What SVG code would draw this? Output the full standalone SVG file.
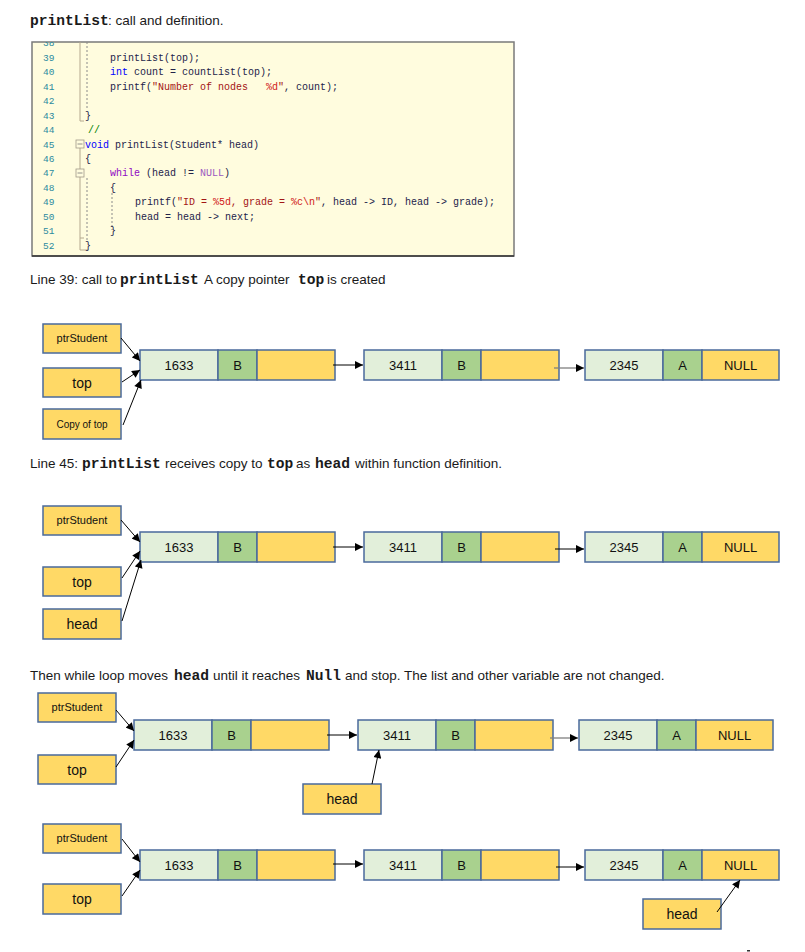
<svg xmlns="http://www.w3.org/2000/svg" width="805" height="952" viewBox="0 0 805 952">
<style>
.body{font-family:"Liberation Sans",Arial,sans-serif;font-size:13.5px;fill:#1a1a1a}
.mono{font-family:"Liberation Mono","Courier New",monospace;font-weight:bold;font-size:14.6px;fill:#1a1a1a}
.code{font-family:"Liberation Mono","DejaVu Sans Mono",monospace;font-size:10px;fill:#23234a;white-space:pre}
.ln{font-family:"Liberation Mono","DejaVu Sans Mono",monospace;font-size:9.5px;fill:#2b8a9f}
.kw{fill:#0000ff}.str{fill:#a31515}.fmt{fill:#d01818}.cm{fill:#008000}.wh{fill:#8f08c4}.nl{fill:#9b59c0}
.outl{stroke:#b4a88e;stroke-width:1;fill:none}
.dash{stroke:#8a8a8a;stroke-width:1;stroke-dasharray:2,2;fill:none}
.cd{fill:#E2EFDA;stroke:#4A6A9C;stroke-width:1.5}
.cg{fill:#A9D18E;stroke:#4A6A9C;stroke-width:1.5}
.cp{fill:#FFD966;stroke:#4A6A9C;stroke-width:1.5}
.nt{font-family:"Liberation Sans",Arial,sans-serif;font-size:13px;fill:#111;text-anchor:middle}
.pt{font-family:"Liberation Sans",Arial,sans-serif;font-size:11px;fill:#111;text-anchor:middle}
.pt2{font-family:"Liberation Sans",Arial,sans-serif;font-size:14px;fill:#111;text-anchor:middle}
.pt3{font-family:"Liberation Sans",Arial,sans-serif;font-size:10px;fill:#111;text-anchor:middle}
.conn{stroke:#000;stroke-width:1;fill:none;marker-end:url(#ah)}
.connG{stroke:#7f7f7f;stroke-width:1.3;fill:none;marker-end:url(#ah)}
</style>
<defs>
<marker id="ah" viewBox="0 0 10 10" refX="10" refY="5" markerWidth="9" markerHeight="8" markerUnits="userSpaceOnUse" orient="auto"><path d="M0,0 L10,5 L0,10 z" fill="#000"/></marker>
<clipPath id="codeclip"><rect x="32" y="42" width="482" height="214"/></clipPath>
</defs>
<rect width="805" height="952" fill="#fff"/>

<!-- Title -->
<text x="30" y="25"><tspan class="mono">printList</tspan><tspan class="body" x="108">: call and definition.</tspan></text>

<!-- Code box -->
<g id="code">
<rect x="32" y="42" width="482" height="214" fill="#FFFCDE" stroke="#7a7a7a" stroke-width="1.5"/>
<line x1="32" y1="256" x2="514" y2="256" stroke="#333" stroke-width="1.5"/>
<g clip-path="url(#codeclip)">
<text class="ln" x="43" y="46">38</text>
</g>
<text class="ln" x="43" y="60.5">39</text>
<text class="ln" x="43" y="75">40</text>
<text class="ln" x="43" y="89.5">41</text>
<text class="ln" x="43" y="104">42</text>
<text class="ln" x="43" y="118.5">43</text>
<text class="ln" x="43" y="133">44</text>
<text class="ln" x="43" y="147.5">45</text>
<text class="ln" x="43" y="162">46</text>
<text class="ln" x="43" y="176.3">47</text>
<text class="ln" x="43" y="190.8">48</text>
<text class="ln" x="43" y="205.2">49</text>
<text class="ln" x="43" y="219.6">50</text>
<text class="ln" x="43" y="234">51</text>
<text class="ln" x="43" y="248.5">52</text>
<path class="outl" d="M80,42 V121 H84 M80,148 V250 H88 M80,238 H84"/>
<rect x="76" y="140" width="8" height="8" fill="#FFFCDE" stroke="#a09a8a" stroke-width="0.8"/>
<line x1="77.5" y1="144" x2="82.5" y2="144" stroke="#777" stroke-width="0.8"/>
<rect x="76" y="169" width="8" height="8" fill="#FFFCDE" stroke="#a09a8a" stroke-width="0.8"/>
<line x1="77.5" y1="173" x2="82.5" y2="173" stroke="#777" stroke-width="0.8"/>
<path class="dash" d="M87,42 V108 M87,178 V240 M112,193 V230"/>
<text class="code" x="110" y="60.5" xml:space="preserve">printList(top);</text>
<text class="code" x="110" y="75" xml:space="preserve"><tspan class="kw">int</tspan> count = countList(top);</text>
<text class="code" x="110" y="89.5" xml:space="preserve">printf(<tspan class="str">"Number of nodes   </tspan><tspan class="fmt">%d</tspan><tspan class="str">"</tspan>, count);</text>
<text class="code" x="85" y="118.5" xml:space="preserve">}</text>
<text class="code" x="88" y="133" xml:space="preserve"><tspan class="cm">//</tspan></text>
<text class="code" x="85" y="147.5" xml:space="preserve"><tspan class="kw">void</tspan> printList(Student* head)</text>
<text class="code" x="85" y="162" xml:space="preserve">{</text>
<text class="code" x="110" y="176.3" xml:space="preserve"><tspan class="wh">while</tspan> (head != <tspan class="nl">NULL</tspan>)</text>
<text class="code" x="110" y="190.8" xml:space="preserve">{</text>
<text class="code" x="135" y="205.2" xml:space="preserve">printf(<tspan class="str">"ID = </tspan><tspan class="fmt">%5d</tspan><tspan class="str">, grade = </tspan><tspan class="fmt">%c\n</tspan><tspan class="str">"</tspan>, head -&gt; ID, head -&gt; grade);</text>
<text class="code" x="135" y="219.6" xml:space="preserve">head = head -&gt; next;</text>
<text class="code" x="110" y="234" xml:space="preserve">}</text>
<text class="code" x="85" y="248.5" xml:space="preserve">}</text>
</g>

<!-- Caption 1 -->
<text y="284"><tspan class="body" x="30">Line 39: call to</tspan><tspan class="mono" x="120">printList</tspan><tspan class="body" x="204">A copy pointer</tspan><tspan class="mono" x="298">top</tspan><tspan class="body" x="327">is created</tspan></text>

<!-- Diagram 1 -->
<g id="d1-ptrStudent"><rect class="cp" x="43" y="324" width="78" height="29"/><text class="pt" x="82" y="342">ptrStudent</text></g>
<g id="d1-top"><rect class="cp" x="43" y="368" width="78" height="29"/><text class="pt2" x="82" y="387.5">top</text></g>
<g id="d1-copy"><rect class="cp" x="43" y="409" width="78" height="30"/><text class="pt3" x="82" y="427.5">Copy of top</text></g>
<g id="d1-n1"><rect class="cd" x="140" y="350" width="78" height="30"/><rect class="cg" x="218" y="350" width="39" height="30"/><rect class="cp" x="257" y="350" width="78" height="30"/><text class="nt" x="179" y="369.5">1633</text><text class="nt" x="237.5" y="369.5">B</text></g>
<g id="d1-n2"><rect class="cd" x="364" y="350" width="78" height="30"/><rect class="cg" x="442" y="350" width="39" height="30"/><rect class="cp" x="481" y="350" width="78" height="30"/><text class="nt" x="403" y="369.5">3411</text><text class="nt" x="461.5" y="369.5">B</text></g>
<g id="d1-n3"><rect class="cd" x="585" y="350" width="78" height="30"/><rect class="cg" x="663" y="350" width="39" height="30"/><rect class="cp" x="702" y="350" width="77" height="30"/><text class="nt" x="624" y="369.5">2345</text><text class="nt" x="682.5" y="369.5">A</text><text class="nt" x="740.5" y="369.5">NULL</text></g>

<!-- Caption 2 -->
<text y="468"><tspan class="body" x="30">Line 45:</tspan><tspan class="mono" x="82">printList</tspan><tspan class="body" x="165">receives copy to</tspan><tspan class="mono" x="267">top</tspan><tspan class="body" x="296">as</tspan><tspan class="mono" x="315">head</tspan><tspan class="body" x="355">within function definition.</tspan></text>

<!-- Diagram 2 -->
<g id="d2-ptrStudent"><rect class="cp" x="43" y="506" width="78" height="29"/><text class="pt" x="82" y="524">ptrStudent</text></g>
<g id="d2-top"><rect class="cp" x="43" y="567" width="78" height="29"/><text class="pt2" x="82" y="586.5">top</text></g>
<g id="d2-head"><rect class="cp" x="43" y="609" width="78" height="30"/><text class="pt2" x="82" y="629">head</text></g>
<g id="d2-n1"><rect class="cd" x="140" y="532" width="78" height="30"/><rect class="cg" x="218" y="532" width="39" height="30"/><rect class="cp" x="257" y="532" width="78" height="30"/><text class="nt" x="179" y="551.5">1633</text><text class="nt" x="237.5" y="551.5">B</text></g>
<g id="d2-n2"><rect class="cd" x="364" y="532" width="78" height="30"/><rect class="cg" x="442" y="532" width="39" height="30"/><rect class="cp" x="481" y="532" width="78" height="30"/><text class="nt" x="403" y="551.5">3411</text><text class="nt" x="461.5" y="551.5">B</text></g>
<g id="d2-n3"><rect class="cd" x="585" y="532" width="78" height="30"/><rect class="cg" x="663" y="532" width="39" height="30"/><rect class="cp" x="702" y="532" width="77" height="30"/><text class="nt" x="624" y="551.5">2345</text><text class="nt" x="682.5" y="551.5">A</text><text class="nt" x="740.5" y="551.5">NULL</text></g>

<!-- Caption 3 -->
<text y="680"><tspan class="body" x="30">Then while loop moves</tspan><tspan class="mono" x="174">head</tspan><tspan class="body" x="213">until it reaches</tspan><tspan class="mono" x="306">Null</tspan><tspan class="body" x="345">and stop. The list and other variable are not changed.</tspan></text>

<!-- Diagram 3 -->
<g id="d3-ptrStudent"><rect class="cp" x="38" y="693" width="78" height="29"/><text class="pt" x="77" y="711">ptrStudent</text></g>
<g id="d3-top"><rect class="cp" x="38" y="755" width="78" height="29"/><text class="pt2" x="77" y="774.5">top</text></g>
<g id="d3-n1"><rect class="cd" x="134" y="720" width="78" height="30"/><rect class="cg" x="212" y="720" width="39" height="30"/><rect class="cp" x="251" y="720" width="78" height="30"/><text class="nt" x="173" y="739.5">1633</text><text class="nt" x="231.5" y="739.5">B</text></g>
<g id="d3-n2"><rect class="cd" x="358" y="720" width="78" height="30"/><rect class="cg" x="436" y="720" width="39" height="30"/><rect class="cp" x="475" y="720" width="78" height="30"/><text class="nt" x="397" y="739.5">3411</text><text class="nt" x="455.5" y="739.5">B</text></g>
<g id="d3-n3"><rect class="cd" x="579" y="720" width="78" height="30"/><rect class="cg" x="657" y="720" width="39" height="30"/><rect class="cp" x="696" y="720" width="77" height="30"/><text class="nt" x="618" y="739.5">2345</text><text class="nt" x="676.5" y="739.5">A</text><text class="nt" x="734.5" y="739.5">NULL</text></g>
<g id="d3-head"><rect class="cp" x="303" y="784" width="78" height="30"/><text class="pt2" x="342" y="804">head</text></g>

<!-- Diagram 4 -->
<g id="d4-ptrStudent"><rect class="cp" x="43" y="824" width="78" height="29"/><text class="pt" x="82" y="842">ptrStudent</text></g>
<g id="d4-top"><rect class="cp" x="43" y="884" width="78" height="30"/><text class="pt2" x="82" y="904">top</text></g>
<g id="d4-n1"><rect class="cd" x="140" y="850" width="78" height="30"/><rect class="cg" x="218" y="850" width="39" height="30"/><rect class="cp" x="257" y="850" width="78" height="30"/><text class="nt" x="179" y="869.5">1633</text><text class="nt" x="237.5" y="869.5">B</text></g>
<g id="d4-n2"><rect class="cd" x="364" y="850" width="78" height="30"/><rect class="cg" x="442" y="850" width="39" height="30"/><rect class="cp" x="481" y="850" width="78" height="30"/><text class="nt" x="403" y="869.5">3411</text><text class="nt" x="461.5" y="869.5">B</text></g>
<g id="d4-n3"><rect class="cd" x="585" y="850" width="78" height="30"/><rect class="cg" x="663" y="850" width="39" height="30"/><rect class="cp" x="702" y="850" width="77" height="30"/><text class="nt" x="624" y="869.5">2345</text><text class="nt" x="682.5" y="869.5">A</text><text class="nt" x="740.5" y="869.5">NULL</text></g>
<g id="d4-head"><rect class="cp" x="643" y="899" width="78" height="30"/><text class="pt2" x="682" y="919">head</text></g>

<!-- Connectors -->
<g id="connectors">
<line class="conn" x1="121" y1="338" x2="140" y2="361"/>
<line class="conn" x1="122" y1="382" x2="140" y2="370"/>
<line class="conn" x1="123" y1="425" x2="141" y2="380"/>
<line class="conn" x1="333" y1="365" x2="363" y2="365"/>
<line class="connG" x1="554" y1="368" x2="584" y2="368"/>

<line class="conn" x1="121" y1="520" x2="140" y2="542"/>
<line class="conn" x1="122" y1="578" x2="140" y2="551"/>
<line class="conn" x1="122" y1="621" x2="141" y2="560"/>
<line class="conn" x1="333" y1="547" x2="363" y2="547"/>
<line class="conn" x1="555" y1="549" x2="584" y2="549"/>

<line class="conn" x1="116" y1="710" x2="134" y2="731"/>
<line class="conn" x1="116" y1="767" x2="134" y2="740"/>
<line class="conn" x1="327" y1="735" x2="357" y2="735"/>
<line class="connG" x1="550" y1="738" x2="578" y2="738"/>
<line class="conn" x1="372" y1="784" x2="379" y2="750"/>

<line class="conn" x1="122" y1="839" x2="140" y2="862"/>
<line class="conn" x1="122" y1="896" x2="140" y2="870"/>
<line class="conn" x1="333" y1="864" x2="363" y2="864"/>
<line class="conn" x1="556" y1="867" x2="584" y2="867"/>
<line class="conn" x1="717" y1="912" x2="740" y2="880"/>
</g>
<rect x="747" y="950" width="3" height="1.5" fill="#333"/>
</svg>
